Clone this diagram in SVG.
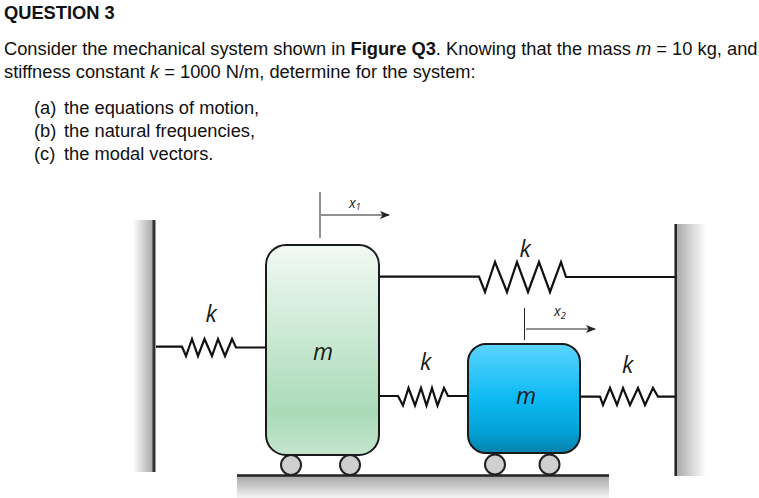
<svg xmlns="http://www.w3.org/2000/svg" width="759" height="498" viewBox="0 0 759 498">
<style>
text{font-family:"Liberation Sans",Arial,sans-serif;fill:#111}
.q{font-size:18.3px}
.lab{font-family:"Open Sans","Liberation Sans",sans-serif;font-style:italic;font-size:23px;fill:#1a1a1a}
.sm{font-family:"Open Sans","Liberation Sans",sans-serif;font-style:italic;font-size:14px;fill:#222}
.sub{font-size:9px}
.wire{fill:none;stroke:#111;stroke-width:2.2;stroke-linejoin:miter}
.thin{fill:none;stroke:#222;stroke-width:1}
.body{stroke:#1a1a1a;stroke-width:2}
.wheel{fill:#cfcfcf;stroke:#222;stroke-width:2}
</style>
<defs>
<linearGradient id="gl" x1="0" x2="1" y1="0" y2="0"><stop offset="0" stop-color="#fff"/><stop offset="1" stop-color="#a8a8a8"/></linearGradient>
<linearGradient id="gr" x1="0" x2="1" y1="0" y2="0"><stop offset="0" stop-color="#a8a8a8"/><stop offset="1" stop-color="#fff"/></linearGradient>
<linearGradient id="gg" x1="0" x2="0" y1="0" y2="1"><stop offset="0" stop-color="#a6a6a6"/><stop offset="1" stop-color="#f4f4f4"/></linearGradient>
<linearGradient id="m1" x1="0" x2="0" y1="0" y2="1"><stop offset="0" stop-color="#f2f9f4"/><stop offset=".8" stop-color="#a9dbb8"/><stop offset="1" stop-color="#c4e6ce"/></linearGradient>
<linearGradient id="m2" x1="0" x2="0" y1="0" y2="1"><stop offset="0" stop-color="#5cd3fd"/><stop offset=".5" stop-color="#0dbaf4"/><stop offset=".8" stop-color="#04a2d6"/><stop offset="1" stop-color="#0782ae"/></linearGradient>
<marker id="ah" markerWidth="10" markerHeight="8" refX="9" refY="4" orient="auto" markerUnits="userSpaceOnUse"><path d="M0 0L10 4L0 8L2.500 4Z" fill="#222"/></marker>
</defs>

<g id="question-text">
<text x="4" y="18.500" font-size="18.300" font-weight="700">QUESTION 3</text>
<text class="q" x="4" y="54.500">Consider the mechanical system shown in <tspan font-weight="700">Figure Q3</tspan>. Knowing that the mass <tspan font-style="italic">m</tspan> = 10 kg, and</text>
<text class="q" x="4" y="77.500">stiffness constant <tspan font-style="italic">k</tspan> = 1000 N/m, determine for the system:</text>
<text class="q" x="34" y="113.500">(a)</text><text class="q" x="64" y="113.500">the equations of motion,</text>
<text class="q" x="34" y="136.500">(b)</text><text class="q" x="64" y="136.500">the natural frequencies,</text>
<text class="q" x="34" y="159.500">(c)</text><text class="q" x="64" y="159.500">the modal vectors.</text>
</g>

<g id="left-wall"><rect x="133" y="220" width="20" height="252" fill="url(#gl)"/><path d="M154 220V472" stroke="#333" stroke-width="3"/></g>
<g id="right-wall"><rect x="676" y="224" width="30" height="252" fill="url(#gr)"/><path d="M675.700 224V476" stroke="#222" stroke-width="2.500"/></g>
<g id="ground"><rect x="237" y="476" width="372" height="22" fill="url(#gg)"/><path d="M237 475.500H609" stroke="#222" stroke-width="2.500"/></g>

<g id="connectors">
<path class="wire" d="M156 346.700H182L186 356L192 339L198 356L204.500 339L212 356L218 339L225 356L232 339L236 347.500H266"/>
<path class="wire" d="M379 276.700H479L485 292L495 262L507 292L517 262L528 292L539 262L550 292L561 262L566 277H675"/>
<path class="wire" d="M379 396H398L403 405.500L408.500 388L415 405.500L421 388L426.500 405.500L432 388L437.500 405.500L444 388L448 396H468"/>
<path class="wire" d="M580 396.700H600L603 405L610 388L617 405L623 388L630 405L638 388L645 405L653 388L658 396.700H675"/>
<path class="thin" d="M320 192V238M321 215H389" marker-end="url(#ah)"/>
<path class="thin" d="M524.500 308V340M526 329H595" marker-end="url(#ah)"/>
</g>

<g id="mass-1"><circle class="wheel" cx="291" cy="465" r="10"/><circle class="wheel" cx="350" cy="465" r="10"/><rect class="body" x="266" y="245" width="113" height="210" rx="20" fill="url(#m1)"/><text class="lab" x="313" y="360">m</text></g>
<g id="mass-2"><circle class="wheel" cx="495" cy="464.500" r="10"/><circle class="wheel" cx="549.500" cy="464.500" r="10"/><rect class="body" x="468" y="344" width="112" height="109" rx="18" fill="url(#m2)"/><text class="lab" x="516" y="404">m</text></g>

<g id="labels">
<text class="lab" x="205.500" y="322">k</text>
<text class="lab" x="519.500" y="257">k</text>
<text class="lab" x="420" y="370">k</text>
<text class="lab" x="622" y="373">k</text>
<text class="sm" x="349" y="208">x<tspan class="sub" dy="2">1</tspan></text>
<text class="sm" x="554" y="316">x<tspan class="sub" dy="3">2</tspan></text>
</g>
</svg>
